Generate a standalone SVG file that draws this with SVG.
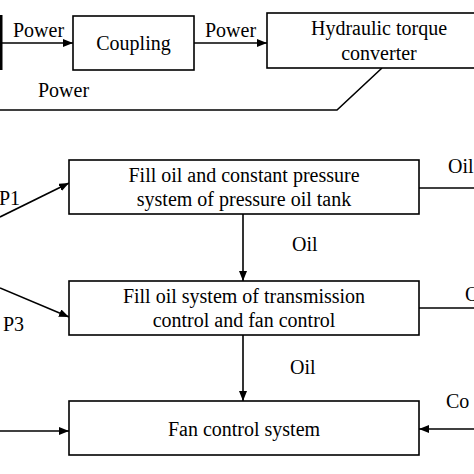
<svg xmlns="http://www.w3.org/2000/svg" width="474" height="474" viewBox="0 0 474 474">
<defs>
<marker id="ah" markerWidth="10" markerHeight="8" refX="10" refY="4" orient="auto" markerUnits="userSpaceOnUse">
<path d="M0,0 L10,4 L0,8 Z" fill="#000"/>
</marker>
<style>
.box{fill:#fff;stroke:#000;stroke-width:1.6}
.ln{fill:none;stroke:#000;stroke-width:1.6}
text{font-family:"Liberation Serif","Times New Roman",serif;font-size:20px;fill:#000}
.c{text-anchor:middle}
</style>
</defs>
<rect width="474" height="474" fill="#fff"/>
<g id="connectors">
<rect x="0" y="15" width="2.5" height="55" fill="#000"/>
<line class="ln" x1="2" y1="43" x2="73" y2="43" marker-end="url(#ah)"/>
<line class="ln" x1="194" y1="43" x2="267" y2="43" marker-end="url(#ah)"/>
<polyline class="ln" points="0,110 337,110 382,68"/>
<line class="ln" x1="0" y1="217" x2="69" y2="183" marker-end="url(#ah)"/>
<line class="ln" x1="0" y1="288" x2="69" y2="317" marker-end="url(#ah)"/>
<line class="ln" x1="0" y1="431" x2="69" y2="431" marker-end="url(#ah)"/>
<line class="ln" x1="419" y1="188" x2="474" y2="188"/>
<line class="ln" x1="419" y1="308" x2="474" y2="308"/>
<line class="ln" x1="474" y1="429" x2="419" y2="429" marker-end="url(#ah)"/>
<line class="ln" x1="243" y1="214" x2="243" y2="281" marker-end="url(#ah)"/>
<line class="ln" x1="243" y1="335" x2="243" y2="401" marker-end="url(#ah)"/>
<text x="13" y="37">Power</text>
<text x="205" y="37">Power</text>
<text x="38" y="97">Power</text>
<text x="-1" y="205">P1</text>
<text x="3" y="331">P3</text>
<text x="448" y="173">Oil</text>
<text x="465" y="301">O</text>
<text x="446" y="408">Co</text>
<text x="292" y="251">Oil</text>
<text x="290" y="374">Oil</text>
</g>
<g id="coupling">
<rect class="box" x="73" y="16" width="121" height="54"/>
<text class="c" x="133.5" y="50">Coupling</text>
</g>
<g id="converter">
<rect class="box" x="267" y="13" width="220" height="55"/>
<text class="c" x="379" y="35">Hydraulic torque</text>
<text class="c" x="379" y="60">converter</text>
</g>
<g id="fill-oil-tank">
<rect class="box" x="69" y="160" width="350" height="54"/>
<text class="c" x="244" y="182">Fill oil and constant pressure</text>
<text class="c" x="244" y="206">system of pressure oil tank</text>
</g>
<g id="fill-oil-transmission">
<rect class="box" x="69" y="281" width="350" height="54"/>
<text class="c" x="244" y="303">Fill oil system of transmission</text>
<text class="c" x="244" y="327">control and fan control</text>
</g>
<g id="fan-control">
<rect class="box" x="69" y="401" width="350" height="54"/>
<text class="c" x="244" y="436">Fan control system</text>
</g>
</svg>
